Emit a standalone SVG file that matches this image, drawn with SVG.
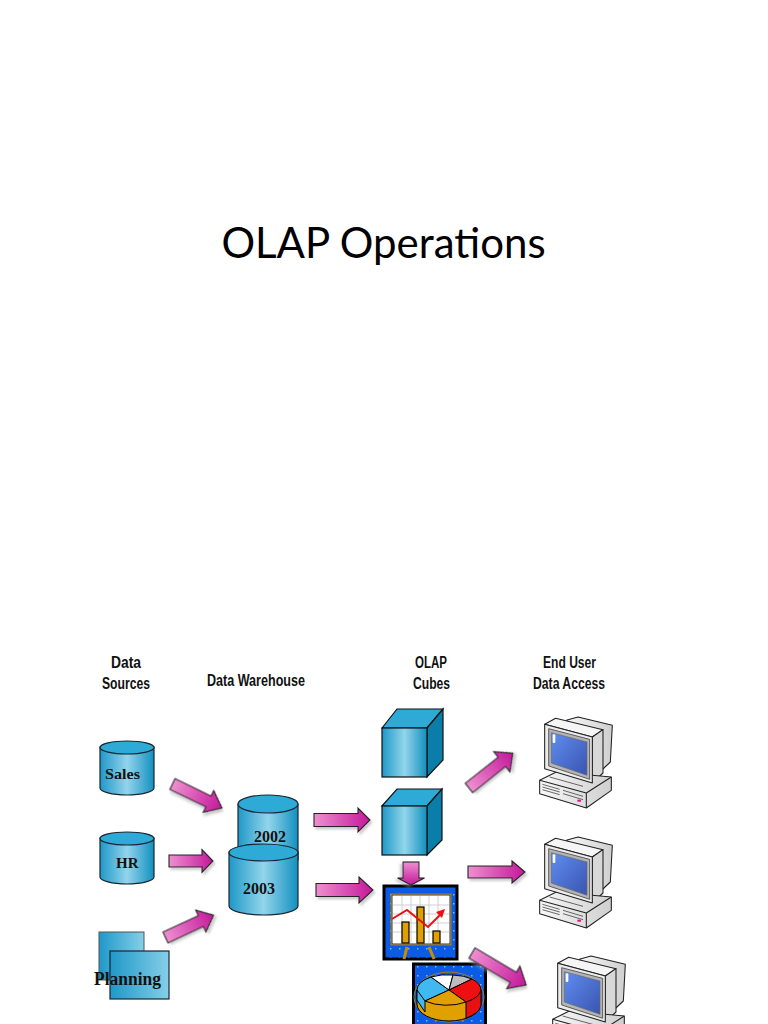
<svg xmlns="http://www.w3.org/2000/svg" width="768" height="1024" viewBox="0 0 768 1024">
<style>
.title{font-family:"Lato","Open Sans",sans-serif;font-size:42px;fill:#000;text-anchor:middle}
.hd{font-family:"Liberation Sans",Arial,sans-serif;font-size:16px;font-weight:bold;fill:#111}
.lb{font-family:"Liberation Serif","Times New Roman",serif;font-weight:bold;fill:#111}
.ln{stroke:#1a2530;stroke-width:1.2}
.arr{fill:url(#ga);stroke:#222;stroke-width:1.1;filter:url(#sh)}
.top{fill:#2eaad6}
.body{fill:url(#gc)}
.pc{stroke:#222;stroke-width:3.2;stroke-linejoin:round}
</style>
<defs>
<linearGradient id="gc" x1="0" x2="1" y1="0" y2="0"><stop offset="0" stop-color="#1f98c9"/><stop offset=".5" stop-color="#92d5eb"/><stop offset="1" stop-color="#1390bf"/></linearGradient>
<linearGradient id="gr" x1="0" x2="1" y1="0" y2="0"><stop offset="0" stop-color="#1f98c9"/><stop offset="1" stop-color="#86cfe8"/></linearGradient>
<linearGradient id="ga" x1="0" x2="1" y1="0" y2="0"><stop offset="0" stop-color="#ee8fd0"/><stop offset="1" stop-color="#c4189a"/></linearGradient>
<linearGradient id="gs" x1="0" x2="1" y1="0" y2="1"><stop offset="0" stop-color="#5f8ef0"/><stop offset="1" stop-color="#3a54b0"/></linearGradient>
<linearGradient id="gm" x1="0" x2="1" y1="0" y2="0"><stop offset="0" stop-color="#f8f8f8"/><stop offset="1" stop-color="#cfcfcf"/></linearGradient>
<pattern id="dots" width="9" height="9" patternUnits="userSpaceOnUse"><rect width="9" height="9" fill="#0a5ce6"/><rect x="3" y="3" width="1.500" height="1.500" fill="#7fb4ff"/></pattern>
<filter id="sh" x="-20%" y="-40%" width="140%" height="180%"><feDropShadow dx="2" dy="2.5" stdDeviation="1.200" flood-color="#999" flood-opacity=".5"/></filter>
<g id="pc" class="pc">
<path fill="url(#gm)" d="M590,240L625,230L728,255L722,365L690,395L668,300Z"/>
<path fill="#f5f5f5" d="M525,252L558,234L700,268L668,290Z"/>
<path fill="#d8d8d8" d="M668,290L700,268L700,398L668,428Z"/>
<path fill="url(#gm)" d="M510,420L560,395L725,410L725,450L650,503L510,460Z"/>
<path fill="none" d="M510,420L650,458L725,410M650,458V503"/>
<path fill="#ececec" d="M525,252L668,290V428L525,385Z"/>
<path fill="#b4b4b4" stroke-width="2" d="M537,265L660,297V417L537,377Z"/>
<path fill="url(#gs)" stroke="#666" stroke-width="2" d="M545,277L652,305V405L545,368Z"/>
<rect x="549" y="282" width="8" height="26" fill="#fff" stroke="none" rx="3"/>
<path fill="none" stroke-width="2" d="M518,432L570,447M518,440L570,455M518,448L570,463M580,450L640,468M580,460L640,478M540,410L640,438"/>
<rect x="623" y="478" width="11" height="6" fill="#e0148c" stroke="none"/>
</g>
</defs>
<rect width="768" height="1024" fill="#fff"/>
<text class="title" x="383.500" y="258">OLAP Operations</text>

<g id="labels">
<text class="hd" x="111" y="668" textLength="30" lengthAdjust="spacingAndGlyphs">Data</text>
<text class="hd" x="102" y="689" textLength="48" lengthAdjust="spacingAndGlyphs">Sources</text>
<text class="hd" x="207" y="686" textLength="98" lengthAdjust="spacingAndGlyphs">Data Warehouse</text>
<text class="hd" x="415" y="668" textLength="32" lengthAdjust="spacingAndGlyphs">OLAP</text>
<text class="hd" x="413" y="689" textLength="37" lengthAdjust="spacingAndGlyphs">Cubes</text>
<text class="hd" x="543" y="668" textLength="53" lengthAdjust="spacingAndGlyphs">End User</text>
<text class="hd" x="533" y="689" textLength="72" lengthAdjust="spacingAndGlyphs">Data Access</text>
</g>

<g id="sales">
<path class="body ln" d="M100,747V788A27,7 0 0 0 154,788V747Z"/>
<ellipse class="top ln" cx="127" cy="747.500" rx="27" ry="6.500"/>
<text class="lb" x="105" y="779" font-size="15" textLength="35" lengthAdjust="spacingAndGlyphs">Sales</text>
</g>
<g id="hr">
<path class="body ln" d="M100,838V877A27,7 0 0 0 154,877V838Z"/>
<ellipse class="top ln" cx="127" cy="838.500" rx="27" ry="6.500"/>
<text class="lb" x="116" y="868" font-size="15">HR</text>
</g>
<g id="planning">
<rect x="99" y="932" width="45" height="48" fill="url(#gr)" stroke="#555" stroke-width="1"/>
<rect x="110" y="951" width="59" height="48" fill="url(#gr)" stroke="#1a2530" stroke-width="1.200"/>
<text class="lb" x="94" y="985" font-size="18" textLength="67" lengthAdjust="spacingAndGlyphs">Planning</text>
</g>
<g id="dw2002">
<path class="body ln" d="M238,804V860H298V804Z"/>
<ellipse class="top ln" cx="268" cy="804" rx="30" ry="9"/>
<text class="lb" x="254" y="842" font-size="16">2002</text>
</g>
<g id="dw2003">
<path class="body ln" d="M229,852V906A34.500,9 0 0 0 298,906V852Z"/>
<ellipse class="top ln" cx="263.500" cy="852.500" rx="34.500" ry="8.500"/>
<text class="lb" x="243" y="894" font-size="16">2003</text>
</g>

<g id="cube1">
<path fill="#2eaad6" stroke="#111" stroke-width="1.200" d="M382,728L397,709H443L427,728Z"/>
<path fill="#0a7ea8" stroke="#111" stroke-width="1.200" d="M427,728L443,709V760L427,777Z"/>
<rect x="382" y="728" width="45" height="49" fill="url(#gc)" stroke="#111" stroke-width="1.200"/>
</g>
<g id="cube2">
<path fill="#2eaad6" stroke="#111" stroke-width="1.200" d="M382,806L397,789H442L427,806Z"/>
<path fill="#0a7ea8" stroke="#111" stroke-width="1.200" d="M427,806L442,789V840L427,855Z"/>
<rect x="382" y="806" width="45" height="49" fill="url(#gc)" stroke="#111" stroke-width="1.200"/>
</g>

<g id="chart">
<rect x="384" y="886" width="73" height="73" fill="url(#dots)" stroke="#000" stroke-width="3"/>
<path d="M407,947L404,959M429,947L434,959" stroke="#c98c00" stroke-width="3" fill="none"/>
<rect x="391" y="894" width="60" height="51" fill="#fff" stroke="#b07c00" stroke-width="1"/>
<rect x="392" y="895" width="58" height="49" fill="#fff" stroke="#000" stroke-width=".8"/>
<path d="M402,896V943M411,896V943M420,896V943M429,896V943M438,896V943M393,905H449M393,914H449M393,923H449M393,932H449" stroke="#c4c4c4" stroke-width=".8"/>
<g fill="#e0a000" stroke="#000" stroke-width="1.200">
<rect x="402" y="922" width="7" height="21"/>
<rect x="417" y="907" width="7" height="36"/>
<rect x="433" y="931" width="7" height="12"/>
</g>
<path d="M392,919L407,910L428,927L441,914" fill="none" stroke="#ee1010" stroke-width="2"/>
<path d="M445,909L442,918L436,912Z" fill="#ee1010"/>
</g>

<g id="pie">
<rect x="413.500" y="964" width="72" height="62" fill="url(#dots)" stroke="#000" stroke-width="3"/>
<ellipse cx="449" cy="997" rx="35" ry="25" fill="none" stroke="#b07c00" stroke-width="1"/>
<path d="M417,990V1004A32,17 0 0 0 481,1004V990Z" fill="#e0a000" stroke="#000" stroke-width="1"/>
<path d="M449,990L481,990V1006A32,17 0 0 1 466,1018V998Z" fill="#e81010" stroke="#000" stroke-width="1"/>
<path d="M417,990A32,16 0 0 1 431,977L449,990L425,1001A32,16 0 0 1 417,990Z" fill="#40b8f0" stroke="#000" stroke-width="1"/>
<path d="M431,977A32,16 0 0 1 453,975L449,990Z" fill="#fff" stroke="#000" stroke-width="1"/>
<path d="M453,975A32,16 0 0 1 472,979L449,990Z" fill="#bdbdbd" stroke="#000" stroke-width="1"/>
<path d="M472,979A32,16 0 0 1 481,990A32,16 0 0 1 466,1002L449,990Z" fill="#ee1010" stroke="#000" stroke-width="1"/>
<path d="M425,1001L449,990L466,1002A32,16 0 0 1 425,1001Z" fill="#e0a000" stroke="#000" stroke-width="1"/>
<path d="M417,990V1000L425,1012V1001Z" fill="#40b8f0" stroke="#000" stroke-width="1"/>
</g>

<g id="pc1"><use href="#pc" transform="translate(539,717) scale(.3333) translate(-508,-230)"/></g>
<g id="pc2"><use href="#pc" transform="translate(539,837) scale(.3333) translate(-508,-230)"/></g>
<g id="pc3"><use href="#pc" transform="translate(552,956) scale(.3333) translate(-508,-230)"/></g>

<g id="connectors">
<path class="arr" transform="translate(172.500,784) rotate(25.900)" d="M0,-6H40V-12L55,0L40,12V6H0Z"/>
<path class="arr" d="M169,855H202V849.500L213,861L202,872.500V867H169Z"/>
<path class="arr" transform="translate(165.500,937.500) rotate(-24.900)" d="M0,-6H39V-12L53,0L39,12V6H0Z"/>
<path class="arr" d="M314,813.500H358V808L370,820L358,832V826.500H314Z"/>
<path class="arr" d="M316,883.500H359V877L373,890L359,903V896.500H316Z"/>
<path class="arr" transform="translate(469,788) rotate(-38.500)" d="M0,-6H42V-13L56,0L42,13V6H0Z"/>
<path class="arr" transform="translate(411,862) rotate(90)" d="M0,-8H16V-13.500L23,0L16,13.500V8H0Z"/>
<path class="arr" d="M468,866H512V861L525,872L512,883V878H468Z"/>
<path class="arr" transform="translate(472,953) rotate(30.600)" d="M0,-6H48V-13L63,0L48,13V6H0Z"/>
</g>
</svg>
